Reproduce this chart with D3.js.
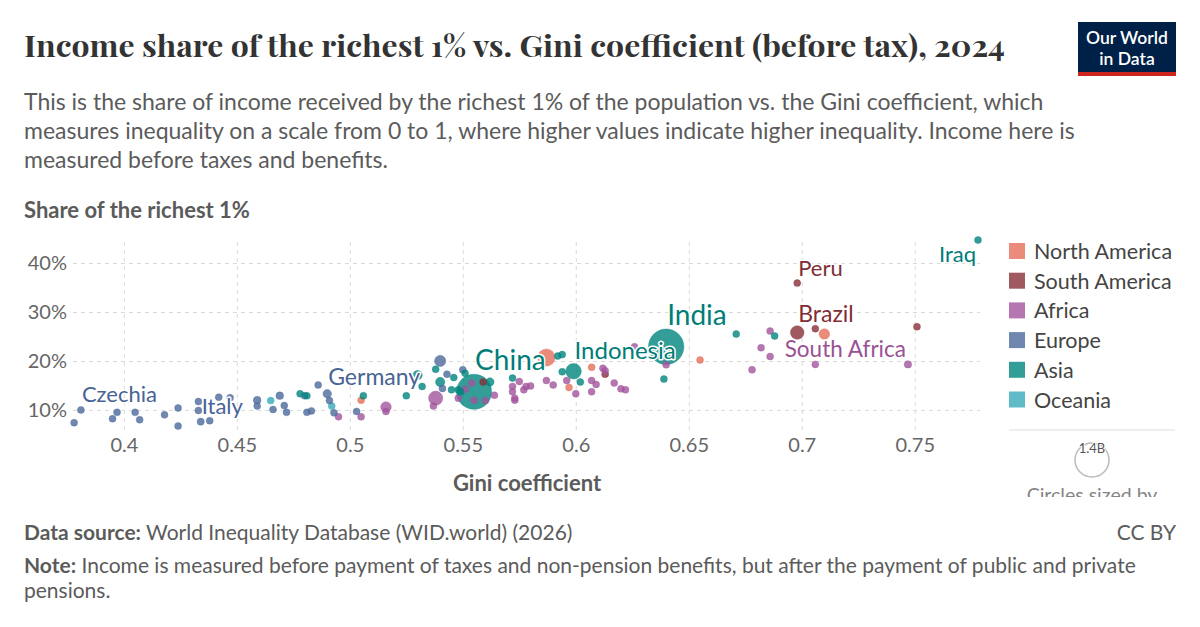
<!DOCTYPE html>
<html>
<head>
<meta charset="utf-8">
<script src="https://cdn.jsdelivr.net/npm/d3@7"></script>
<style>
body{margin:0;background:#fff;}
text{font-family:Lato,'Noto Sans',sans-serif;}
</style>
</head>
<body>
<div id="chart"></div>
<script>
// regions, in legend order
var regions = ["North America","South America","Africa","Europe","Asia","Oceania"];
var regionColors = ["#E56E5A","#883039","#A2559C","#4C6A9C","#00847E","#38AABA"];

var xTicks = [0.4,0.45,0.5,0.55,0.6,0.65,0.7,0.75];
var yTicks = [10,20,30,40];

// [gini, share of richest 1% (%), population (millions), label]
var northAmerica = [[0.505,12.0,5],[0.587,20.7,340],[0.597,14.6,5],[0.607,18.7,5],[0.655,20.2,5],[0.710,25.5,130]];
var southAmerica = [[0.559,15.7,5],[0.613,17.3,5],[0.698,35.9,34,"Peru"],[0.698,25.8,212,"Brazil"],[0.706,26.6,5],[0.751,27.0,5]];
var africa = [[0.495,8.6,5],[0.505,8.6,5],[0.516,10.6,130],[0.516,9.7,5],[0.538,12.4,230],[0.537,10.8,5],[0.548,12.4,5],
	[0.551,14.2,5],[0.554,15.5,5],[0.555,12.0,5],[0.560,11.9,5],[0.564,13.0,5],[0.572,14.8,5],[0.575,15.8,5],[0.572,13.7,5],
	[0.573,12.4,5],[0.577,14.1,5],[0.573,12.0,5],[0.578,14.8,5],[0.580,14.9,5],[0.587,16.0,5],[0.590,15.1,5],[0.596,16.0,5],
	[0.600,13.3,5],[0.607,16.0,5],[0.609,15.2,5],[0.607,13.7,5],[0.612,18.5,5],[0.613,18.0,5],[0.617,15.5,5],[0.620,14.3,5],
	[0.622,14.1,5],[0.640,19.2,5],[0.626,22.9,5],[0.678,18.2,5],[0.682,22.7,5],[0.686,26.1,5],[0.686,20.9,5],[0.706,19.3,5],
	[0.747,19.3,64,"South Africa"]];
var europe = [[0.378,7.4,5],[0.381,10.0,11,"Czechia"],[0.395,8.2,5],[0.397,9.5,5],[0.405,9.5,5],[0.407,8.0,5],[0.418,9.0,5],
	[0.424,10.4,5],[0.424,6.7,5],[0.433,11.7,5],[0.433,9.9,5],[0.434,7.6,59,"Italy"],[0.438,7.8,5],[0.442,12.6,5],[0.447,12.5,5],
	[0.459,12.0,68],[0.459,10.8,5],[0.466,10.1,5],[0.469,12.9,68],[0.471,10.9,5],[0.472,9.5,5],[0.480,12.9,5],[0.481,9.5,5],
	[0.483,9.8,5],[0.486,15.1,5],[0.490,13.3,84,"Germany"],[0.491,11.9,5],[0.493,9.4,5],[0.503,9.7,5],[0.540,20.0,144],
	[0.543,17.3,5],[0.541,14.4,5],[0.550,18.2,5]];
var asia = [[0.478,13.3,5],[0.481,12.9,5],[0.506,12.9,5],[0.525,12.9,5],[0.530,17.1,100],[0.538,18.3,5],[0.540,15.7,100],
	[0.546,16.6,5],[0.551,17.5,5],[0.549,13.7,5],[0.548,14.1,5],[0.545,14.1,5],[0.532,14.8,5],[0.555,13.7,1410,"China"],
	[0.562,15.7,80],[0.572,16.5,5],[0.592,21.0,5],[0.594,21.3,5],[0.594,17.8,5],[0.599,17.9,280,"Indonesia"],[0.602,15.7,5],
	[0.639,16.3,5],[0.640,22.9,1440,"India"],[0.671,25.5,5],[0.688,25.1,5],[0.778,44.7,45,"Iraq"]];
var oceania = [[0.465,11.9,5],[0.492,10.8,27]];

var regionPoints = [northAmerica, southAmerica, africa, europe, asia, oceania];

// how each country label sits next to its point
var labelStyle = {
	"Czechia":{size:22, anchor:"start", place:"above"},
	"Italy":{size:22, anchor:"start", place:"above"},
	"Germany":{size:23, anchor:"start", place:"above"},
	"China":{size:28, anchor:"start", place:"above"},
	"India":{size:28, anchor:"start", place:"above"},
	"Indonesia":{size:24, anchor:"start", place:"above"},
	"Peru":{size:22, anchor:"start", place:"above"},
	"Brazil":{size:23, anchor:"start", place:"above"},
	"South Africa":{size:22.5, anchor:"end", place:"above"},
	"Iraq":{size:22, anchor:"end", place:"below"}
};

var W = 1200, H = 627;
var svg = d3.select("#chart").append("svg").attr("width",W).attr("height",H);
svg.append("rect").attr("width",W).attr("height",H).attr("fill","#fff");

// header
svg.append("text").attr("x",24).attr("y",57)
	.attr("textLength",981).attr("lengthAdjust","spacingAndGlyphs")
	.style("font-family","'Playfair Display','Liberation Serif',serif")
	.style("font-size","30px").style("font-weight","700").style("fill","#333")
	.text("Income share of the richest 1% vs. Gini coefficient (before tax), 2024");

var subtitle = ["This is the share of income received by the richest 1% of the population vs. the Gini coefficient, which",
	"measures inequality on a scale from 0 to 1, where higher values indicate higher inequality. Income here is",
	"measured before taxes and benefits."];
svg.selectAll(".sub").data(subtitle).enter().append("text").attr("class","sub")
	.attr("x",24).attr("y",function(d,i){ return 110 + i*29; })
	.style("font-size","23px").style("fill","#5b5b5b")
	.text(function(d){ return d; });

// logo
var logo = svg.append("g");
logo.append("rect").attr("x",1078).attr("y",22).attr("width",98).attr("height",54).attr("fill","#002147");
logo.append("rect").attr("x",1078).attr("y",72).attr("width",98).attr("height",4).attr("fill","#ce261e");
logo.append("text").attr("x",1127).attr("y",44).attr("text-anchor","middle").style("font-size","17.5px").style("font-weight","600").style("fill","#fff").text("Our World");
logo.append("text").attr("x",1127).attr("y",65).attr("text-anchor","middle").style("font-size","17.5px").style("font-weight","600").style("fill","#fff").text("in Data");

// scales
var plotLeft = 73, plotRight = 980, plotTop = 240, plotBottom = 430;
var x = d3.scaleLinear().domain([0.3775,0.778]).range([73,978]);
var y = d3.scaleLinear().domain([5.9,44.7]).range([430,240]);
var rScale = d3.scaleSqrt().domain([0,1400]).range([0,17.5]);
function radius(pop){ return Math.max(3.5, rScale(pop)); }

svg.append("text").attr("x",24).attr("y",218)
	.style("font-size","22px").style("font-weight","700").style("fill","#5b5b5b")
	.text("Share of the richest 1%");

var xAxis = svg.append("g").attr("class","axis")
	.attr("transform","translate(0," + plotBottom + ")")
	.call(d3.axisBottom(x).tickValues(xTicks).tickSize(-(plotBottom-plotTop)).tickPadding(8).tickFormat(d3.format("")));
var yAxis = svg.append("g").attr("class","axis")
	.attr("transform","translate(" + plotLeft + ",0)")
	.call(d3.axisLeft(y).tickValues(yTicks).tickSize(-(plotRight-plotLeft)).tickPadding(6).tickFormat(function(d){ return d + "%"; }));
svg.selectAll(".axis .domain").remove();
svg.selectAll(".axis line").attr("stroke","#dadada").attr("stroke-dasharray","4,4");
svg.selectAll(".axis text").style("font-size","20px").style("fill","#666").style("font-family","Lato,sans-serif");

svg.append("text").attr("x",527).attr("y",491).attr("text-anchor","middle")
	.style("font-size","22px").style("font-weight","700").style("fill","#5b5b5b")
	.text("Gini coefficient");

// points, biggest first so small ones stay visible
var points = [];
regionPoints.forEach(function(list,ri){
	list.forEach(function(p){
		points.push({gini:p[0], share:p[1], pop:p[2], name:p[3] || "", color:regionColors[ri]});
	});
});
points.sort(function(a,b){ return b.pop - a.pop; });

svg.append("g").selectAll("circle").data(points).enter().append("circle")
	.attr("cx",function(d){ return x(d.gini); })
	.attr("cy",function(d){ return y(d.share); })
	.attr("r",function(d){ return radius(d.pop); })
	.attr("fill",function(d){ return d.color; })
	.attr("fill-opacity",0.8)
	.attr("stroke",function(d){ return d.color; })
	.attr("stroke-opacity",0.6)
	.attr("stroke-width",0.6);

var labelled = points.filter(function(d){ return d.name != ""; });
svg.append("g").selectAll("text").data(labelled).enter().append("text")
	.attr("x",function(d){ return x(d.gini) + (labelStyle[d.name].anchor=="start" ? 1 : -2); })
	.attr("y",function(d){
		var st = labelStyle[d.name];
		return st.place=="above" ? y(d.share) - radius(d.pop) - 4 : y(d.share) + radius(d.pop) + 18;
	})
	.attr("text-anchor",function(d){ return labelStyle[d.name].anchor; })
	.style("font-size",function(d){ return labelStyle[d.name].size + "px"; })
	.style("fill",function(d){ return d3.color(d.color).darker(0.15); })
	.style("stroke","#fff").style("stroke-width",3).style("paint-order","stroke").style("stroke-linejoin","round")
	.text(function(d){ return d.name; });

// legend
var legend = svg.append("g");
var rows = legend.selectAll("g").data(regions).enter().append("g")
	.attr("transform",function(d,i){ return "translate(1009," + (243 + i*29.7) + ")"; });
rows.append("rect").attr("width",16).attr("height",16)
	.attr("fill",function(d,i){ return regionColors[i]; }).attr("fill-opacity",0.8);
rows.append("text").attr("x",25).attr("y",16).style("font-size","21.5px").style("fill","#444")
	.text(function(d){ return d; });

legend.append("line").attr("x1",1009).attr("x2",1175).attr("y1",430).attr("y2",430).attr("stroke","#ddd");

svg.append("clipPath").attr("id","sizeClip").append("rect").attr("x",1000).attr("y",432).attr("width",200).attr("height",65);
var sizeLeg = svg.append("g").attr("clip-path","url(#sizeClip)");
sizeLeg.append("circle").attr("cx",1092).attr("cy",460).attr("r",17).attr("fill","none").attr("stroke","#bbb").attr("stroke-width",1.5);
sizeLeg.append("text").attr("x",1092).attr("y",453).attr("text-anchor","middle")
	.style("font-size","13px").style("fill","#555")
	.style("stroke","#fff").style("stroke-width",2).style("paint-order","stroke")
	.text("1.4B");
sizeLeg.append("text").attr("x",1092).attr("y",502).attr("text-anchor","middle")
	.style("font-size","19.5px").style("fill","#858585").text("Circles sized by");

// footer
var src = svg.append("text").attr("x",24).attr("y",540).style("font-size","21px").style("fill","#5b5b5b");
src.append("tspan").style("font-weight","700").text("Data source:");
src.append("tspan").text(" World Inequality Database (WID.world) (2026)");
svg.append("text").attr("x",1176).attr("y",540).attr("text-anchor","end").style("font-size","21px").style("fill","#5b5b5b").text("CC BY");
var note = svg.append("text").attr("x",24).attr("y",573).style("font-size","21px").style("fill","#5b5b5b");
note.append("tspan").style("font-weight","700").text("Note:");
note.append("tspan").text(" Income is measured before payment of taxes and non-pension benefits, but after the payment of public and private");
svg.append("text").attr("x",24).attr("y",598).style("font-size","21px").style("fill","#5b5b5b").text("pensions.");
</script>
</body>
</html>
